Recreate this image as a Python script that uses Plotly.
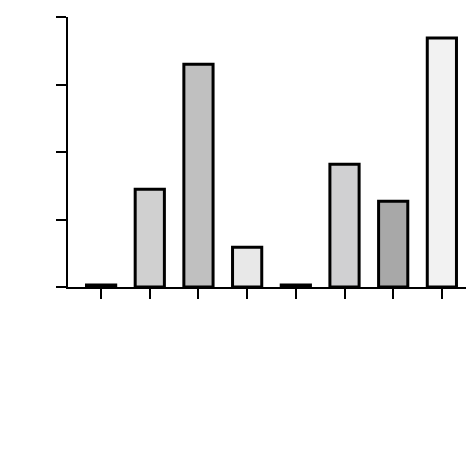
import plotly.graph_objects as go

categories = ["A", "B", "C", "D", "E", "F", "G", "H"]
values = [0.03, 1.45, 3.30, 0.59, 0.03, 1.82, 1.27, 3.69]
colors = ["#e0e0e0", "#d0d0d0", "#c0c0c0", "#e8e8e8", "#e0e0e0", "#d0d0d2", "#a8a8a8", "#f2f2f2"]
yticks = [0, 1, 2, 3, 4]

fig = go.Figure(go.Bar(
    x=list(range(len(categories))), y=values,
    marker=dict(color=colors, line=dict(color="black", width=3)),
    width=0.6,
))
fig.update_layout(
    width=474, height=474, margin=dict(l=60, r=8, t=9, b=195),
    plot_bgcolor="white", paper_bgcolor="white", showlegend=False,
    xaxis=dict(range=[-0.68, 7.66], tickvals=list(range(len(categories))), showticklabels=False,
               ticks="outside", ticklen=10, tickwidth=2, tickcolor="black",
               showline=True, linecolor="black", linewidth=2, showgrid=False, zeroline=False),
    yaxis=dict(range=[0, 4], tickvals=yticks, showticklabels=False,
               ticks="outside", ticklen=10, tickwidth=2, tickcolor="black",
               showline=True, linecolor="black", linewidth=2, showgrid=False, zeroline=False),
)
fig.write_html("out.html")
